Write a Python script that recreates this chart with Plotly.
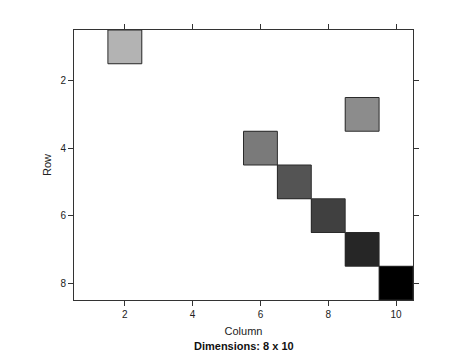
import plotly.graph_objects as go

n_rows = 8
n_cols = 10
rows = [1, 3, 4, 5, 6, 7, 8]
cols = [2, 9, 6, 7, 8, 9, 10]
values = [0.30, 0.45, 0.52, 0.67, 0.75, 0.85, 1.0]
x_ticks = [2, 4, 6, 8, 10]
y_ticks = [2, 4, 6, 8]

z = [[None] * n_cols for _ in range(n_rows)]
for r, c, v in zip(rows, cols, values):
    z[r - 1][c - 1] = v

fig = go.Figure()
fig.add_trace(go.Heatmap(
    x=list(range(1, n_cols + 1)), y=list(range(1, n_rows + 1)), z=z,
    colorscale=[[0, "#ffffff"], [1, "#000000"]], zmin=0, zmax=1,
    showscale=False, hoverongaps=False,
))

# cell outlines derived from the data
ox, oy = [], []
for r, c in zip(rows, cols):
    ox += [c - 0.5, c + 0.5, c + 0.5, c - 0.5, c - 0.5, None]
    oy += [r - 0.5, r - 0.5, r + 0.5, r + 0.5, r - 0.5, None]
fig.add_trace(go.Scatter(x=ox, y=oy, mode="lines",
                         line=dict(color="#2a2a2a", width=1),
                         hoverinfo="skip", showlegend=False))

font = "Liberation Sans, Arial, sans-serif"
axis_common = dict(showline=True, linecolor="#333333", linewidth=1,
                   mirror="ticks", ticks="outside", ticklen=5,
                   tickcolor="#333333", tickwidth=1, showgrid=False,
                   zeroline=False, tickfont=dict(size=10, color="#222222"))

fig.update_layout(
    width=474, height=356,
    margin=dict(l=66, r=69, t=22, b=64),
    paper_bgcolor="white", plot_bgcolor="white",
    font=dict(family=font, color="#222222"),
    showlegend=False,
    xaxis=dict(range=[0.5, n_cols + 0.5], tickvals=x_ticks,
               title=dict(text="Column", font=dict(size=11), standoff=8),
               **axis_common),
    yaxis=dict(range=[n_rows + 0.5, 0.5], tickvals=y_ticks,
               title=dict(text="Row", font=dict(size=11), standoff=6),
               **axis_common),
    annotations=[dict(text="<b>Dimensions: 8 x 10</b>", xref="paper", yref="paper",
                      x=0.5, y=0, yshift=-46, xanchor="center", yanchor="middle",
                      showarrow=False, font=dict(size=11, color="#111111"))],
)

fig.write_html("out.html")
